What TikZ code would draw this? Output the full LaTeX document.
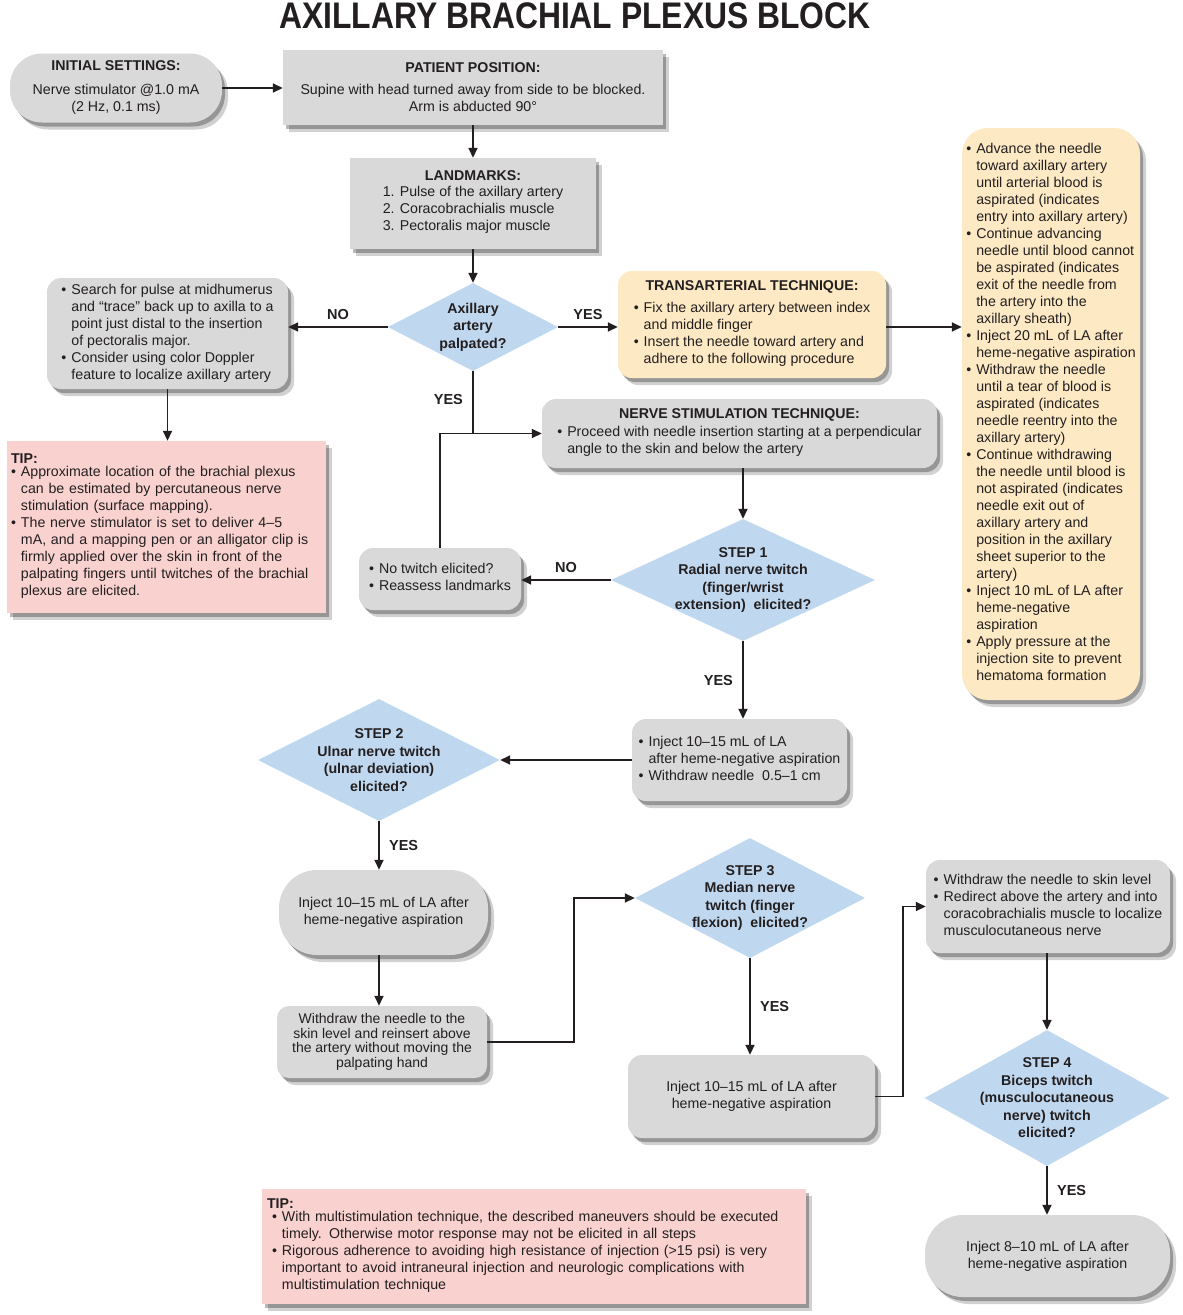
\documentclass[tikz,border=0pt]{standalone}
\usepackage{fontspec}
\usepackage{graphicx}
\setmainfont{Liberation Sans}
\usetikzlibrary{shapes.geometric,arrows.meta,shadows}
\definecolor{boxgray}{RGB}{217,217,217}
\definecolor{tippink}{RGB}{249,210,208}
\definecolor{tipyellow}{RGB}{253,233,195}
\definecolor{diablue}{RGB}{192,216,239}
\definecolor{ink}{RGB}{35,31,32}
\newenvironment{blist}{\begin{tabular}{@{}l@{\hspace{5pt}}l@{}}}{\end{tabular}}
\tikzset{
  shad/.style={drop shadow={shadow xshift=3pt,shadow yshift=-4pt,fill=black,opacity=.28},
               drop shadow={shadow xshift=6pt,shadow yshift=-7pt,fill=black,opacity=.18}},
  base/.style={font=\fontsize{14.2}{17}\selectfont, text=ink, inner sep=4pt, align=center},
  gbox/.style={base, fill=boxgray, shad},
  gpill/.style={gbox, rounded corners=32pt},
  grnd/.style={gbox, rounded corners=14pt},
  pinkbox/.style={base, fill=tippink, shad, align=left},
  ybox/.style={base, fill=tipyellow, shad, rounded corners=14pt},
  dia/.style={shape=diamond, fill=diablue, inner sep=0pt},
  diatext/.style={base, inner sep=0pt, font=\bfseries\fontsize{14.2}{17.5}\selectfont},
  arr/.style={draw=ink, line width=1.6pt, -{Triangle[length=10pt,width=9pt]}},
  ln/.style={draw=ink, line width=1.6pt},
  lbl/.style={font=\bfseries\fontsize{14.5}{15}\selectfont, text=ink}
}
\begin{document}
\begin{tikzpicture}[x=1pt,y=-1pt]
\useasboundingbox (0,0) rectangle (1183,1315);
\fill[white] (0,0) rectangle (1183,1315);

\node[text=ink] (title) at (575,16) {\scalebox{0.86}[1]{\fontsize{37}{40}\selectfont\bfseries AXILLARY BRACHIAL PLEXUS BLOCK}};

\node[gpill, minimum width=212pt, minimum height=69pt] (init) at (116,88)
  {{\bfseries INITIAL SETTINGS:}\\[7pt]Nerve stimulator @1.0 mA\\(2 Hz, 0.1 ms)};
\node[gbox, minimum width=380pt, minimum height=75pt] (pat) at (473,87.5)
  {{\bfseries PATIENT POSITION:}\\[5pt]Supine with head turned away from side to be blocked.\\Arm is abducted 90°};
\node[gbox, minimum width=246pt, minimum height=91pt] (land) at (473,203.5)
  {{\bfseries LANDMARKS:}\\[3pt]\begin{tabular}{@{}l@{}}1. Pulse of the axillary artery\\2. Coracobrachialis muscle\\3. Pectoralis major muscle\end{tabular}};

\node[dia, minimum width=170pt, minimum height=88pt] (d1) at (473,327) {};
\node[diatext] (d1t) at (d1.center) {Axillary\\artery\\palpated?};

\node[grnd, minimum width=241pt, minimum height=111pt] (left) at (167.5,333.5)
  {\begin{blist}
   \textbullet & Search for pulse at midhumerus\\
   & and “trace” back up to axilla to a\\
   & point just distal to the insertion\\
   & of pectoralis major.\\
   \textbullet & Consider using color Doppler\\
   & feature to localize axillary artery
   \end{blist}};

\node[pinkbox, minimum width=319pt, minimum height=172pt, text width=311pt] (tip1) at (166.5,527)
  {{\bfseries TIP:}\\
   \begin{blist}
   \textbullet & Approximate location of the brachial plexus\\
   & can be estimated by percutaneous nerve\\
   & stimulation (surface mapping).\\
   \textbullet & The nerve stimulator is set to deliver 4–5\\
   & mA, and a mapping pen or an alligator clip is\\
   & firmly applied over the skin in front of the\\
   & palpating fingers until twitches of the brachial\\
   & plexus are elicited.
   \end{blist}};

\node[ybox, minimum width=268pt, minimum height=107pt] (trans) at (752,324.5)
  {{\bfseries TRANSARTERIAL TECHNIQUE:}\\[7pt]
   \begin{blist}
   \textbullet & Fix the axillary artery between index\\
   & and middle finger\\
   \textbullet & Insert the needle toward artery and\\
   & adhere to the following procedure
   \end{blist}};

\node[ybox, rounded corners=26pt, minimum width=178pt, minimum height=572pt] (tall) at (1051,414)
  {\begin{blist}
   \textbullet & Advance the needle\\
   & toward axillary artery\\
   & until arterial blood is\\
   & aspirated (indicates\\
   & entry into axillary artery)\\
   \textbullet & Continue advancing\\
   & needle until blood cannot\\
   & be aspirated (indicates\\
   & exit of the needle from\\
   & the artery into the\\
   & axillary sheath)\\
   \textbullet & Inject 20 mL of LA after\\
   & heme-negative aspiration\\
   \textbullet & Withdraw the needle\\
   & until a tear of blood is\\
   & aspirated (indicates\\
   & needle reentry into the\\
   & axillary artery)\\
   \textbullet & Continue withdrawing\\
   & the needle until blood is\\
   & not aspirated (indicates\\
   & needle exit out of\\
   & axillary artery and\\
   & position in the axillary\\
   & sheet superior to the\\
   & artery)\\
   \textbullet & Inject 10 mL of LA after\\
   & heme-negative\\
   & aspiration\\
   \textbullet & Apply pressure at the\\
   & injection site to prevent\\
   & hematoma formation
   \end{blist}};

\node[grnd, minimum width=395pt, minimum height=69pt] (ns) at (739.5,433.5)
  {{\bfseries NERVE STIMULATION TECHNIQUE:}\\[2pt]
   \begin{blist}
   \textbullet & Proceed with needle insertion starting at a perpendicular\\
   & angle to the skin and below the artery
   \end{blist}};

\node[dia, minimum width=264pt, minimum height=122pt] (s1) at (743,580) {};
\node[diatext] (s1t) at (s1.center) {STEP 1\\Radial nerve twitch\\(finger/wrist\\extension)\ \ elicited?};

\node[grnd, minimum width=162pt, minimum height=62pt] (notw) at (440,579)
  {\begin{blist}
   \textbullet & No twitch elicited?\\
   \textbullet & Reassess landmarks
   \end{blist}};

\node[grnd, minimum width=215pt, minimum height=82pt] (inj1) at (739.5,760)
  {\begin{blist}
   \textbullet & Inject 10–15 mL of LA\\
   & after heme-negative aspiration\\
   \textbullet & Withdraw needle\ \ 0.5–1 cm
   \end{blist}};

\node[dia, minimum width=242pt, minimum height=122pt] (s2) at (379,760) {};
\node[diatext] (s2t) at (s2.center) {STEP 2\\Ulnar nerve twitch\\(ulnar deviation)\\elicited?};

\node[gpill, rounded corners=38pt, minimum width=209pt, minimum height=85pt] (inj2) at (383.5,912.5)
  {Inject 10–15 mL of LA after\\heme-negative aspiration};

\node[grnd, rounded corners=12pt, minimum width=210pt, minimum height=72pt,
      font=\fontsize{14}{14.6}\selectfont] (wd) at (382,1042)
  {Withdraw the needle to the\\skin level and reinsert above\\the artery without moving the\\palpating hand};

\node[dia, minimum width=230pt, minimum height=120pt] (s3) at (750,898) {};
\node[diatext] (s3t) at (s3.center) {STEP 3\\Median nerve\\twitch (finger\\flexion)\ \ elicited?};

\node[grnd, minimum width=247pt, minimum height=83pt] (inj3) at (751.5,1096.5)
  {Inject 10–15 mL of LA after\\heme-negative aspiration};

\node[grnd, minimum width=244pt, minimum height=93pt] (ws) at (1048,906.5)
  {\begin{blist}
   \textbullet & Withdraw the needle to skin level\\
   \textbullet & Redirect above the artery and into\\
   & coracobrachialis muscle to localize\\
   & musculocutaneous nerve
   \end{blist}};

\node[dia, minimum width=245pt, minimum height=136pt] (s4) at (1047,1098) {};
\node[diatext] (s4t) at (s4.center) {STEP 4\\Biceps twitch\\(musculocutaneous\\nerve) twitch\\elicited?};

\node[gpill, rounded corners=38pt, minimum width=245pt, minimum height=82pt] (inj4) at (1047.5,1256)
  {Inject 8–10 mL of LA after\\heme-negative aspiration};

\node[pinkbox, minimum width=544pt, minimum height=115pt, text width=534pt] (tip2) at (534,1246.5)
  {{\bfseries TIP:}\\
   \hspace*{5pt}\begin{blist}
   \textbullet & With multistimulation technique, the described maneuvers should be executed\\
   & timely. Otherwise motor response may not be elicited in all steps\\
   \textbullet & Rigorous adherence to avoiding high resistance of injection (>15 psi) is very\\
   & important to avoid intraneural injection and neurologic complications with\\
   & multistimulation technique
   \end{blist}};

% connectors
\draw[arr] (init.east) -- (pat.west |- init.east);
\draw[arr] (pat.south) -- (land.north);
\draw[arr] (land.south) -- (d1.north);
\draw[arr] (d1.west) -- (left.east |- d1.west) node[lbl, midway, above=3pt] {NO};
\draw[arr] (d1.east) -- (trans.west |- d1.east) node[lbl, midway, above=3pt] {YES};
\draw[arr] (trans.east |- d1.east) -- (tall.west |- d1.east);
\draw[arr] (left.south) -- (tip1.north -| left.south);
\draw[ln] (d1.south) -- (d1.south |- ns.west) node[lbl, pos=0.45, left=6pt] {YES};
\draw[arr] (notw.north) |- (ns.west);
\draw[arr] (ns.south -| s1.north) -- (s1.north);
\draw[arr] (s1.west) -- (notw.east |- s1.west) node[lbl, midway, above=3pt] {NO};
\draw[arr] (s1.south) -- (inj1.north -| s1.south) node[lbl, midway, left=6pt] {YES};
\draw[arr] (inj1.west) -- (s2.east);
\draw[arr] (s2.south) -- (inj2.north -| s2.south) node[lbl, midway, right=6pt] {YES};
\draw[arr] (inj2.south -| s2.south) -- (wd.north -| s2.south);
\draw[arr] (wd.east) -- ++(87,0) |- (s3.west);
\draw[arr] (s3.south) -- (inj3.north -| s3.south) node[lbl, midway, right=6pt] {YES};
\draw[arr] (inj3.east) -- ++(28,0) |- (ws.west);
\draw[arr] (ws.south -| s4.north) -- (s4.north);
\draw[arr] (s4.south) -- (inj4.north -| s4.south) node[lbl, midway, right=6pt] {YES};
\end{tikzpicture}
\end{document}
